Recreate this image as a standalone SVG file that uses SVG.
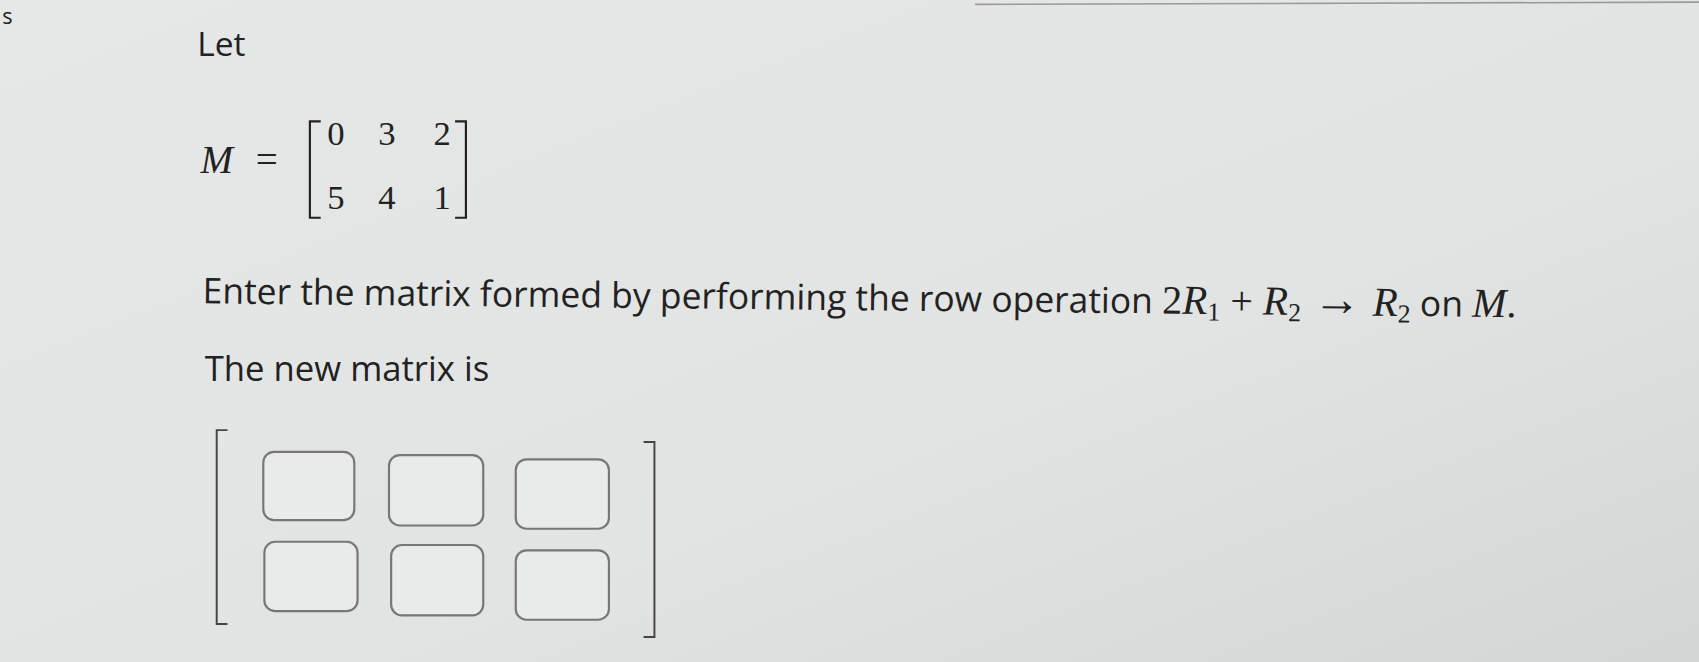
<svg xmlns="http://www.w3.org/2000/svg" width="1699" height="662" viewBox="0 0 1699 662">
<defs>
<linearGradient id="bg" x1="0" y1="0" x2="1" y2="1">
<stop offset="0" stop-color="#e6e8e7"/><stop offset="0.6" stop-color="#e2e4e3"/><stop offset="1" stop-color="#d4d6d5"/>
</linearGradient>
<style>
.t{font-family:"Open Sans","Liberation Sans",sans-serif;fill:#222;font-size:31px}
.m{font-family:"Liberation Serif",serif;fill:#222;font-size:32px}
.mi{font-family:"Liberation Serif",serif;font-style:italic;fill:#222;font-size:33px}
.br{fill:none;stroke:#222;stroke-width:2}
.bx{fill:#e9eaea;stroke:#777;stroke-width:2}
.bb{fill:none;stroke:#444;stroke-width:1.8}
</style>
</defs>
<rect width="1699" height="662" fill="url(#bg)"/>
<g transform="scale(1.0835)">
<line x1="900" y1="4" x2="1568" y2="2" stroke="#999" stroke-width="1.5"/>
<text class="t" x="2" y="22" style="font-size:20px">s</text>
<g id="let"><text class="t" x="182" y="52">Let</text></g>
<g id="matrixM">
<text class="mi" x="185" y="160" style="font-size:36px">M</text>
<text class="m" x="236" y="160" style="font-size:36px">=</text>
<path class="br" d="M296 112 H286 V201 H296"/>
<path class="br" d="M420 112 H430 V201 H420"/>
<text class="m" x="302" y="134">0</text><text class="m" x="349" y="134">3</text><text class="m" x="400" y="134">2</text>
<text class="m" x="302" y="193">5</text><text class="m" x="349" y="193">4</text><text class="m" x="400" y="193">1</text>
</g>
<g id="instruction" transform="rotate(0.6 187 275)">
<text x="187" y="280"><tspan class="t" style="font-size:32.7px">Enter the matrix formed by performing the row operation </tspan><tspan class="m" style="font-size:37px">2</tspan><tspan class="mi" style="font-size:38px">R</tspan><tspan class="m" style="font-size:24px" dy="6">1</tspan><tspan class="m" style="font-size:37px" dy="-6"> + </tspan><tspan class="mi" style="font-size:38px">R</tspan><tspan class="m" style="font-size:24px" dy="6">2</tspan><tspan class="m" style="font-size:44px" dy="-6"> → </tspan><tspan class="mi" style="font-size:38px">R</tspan><tspan class="m" style="font-size:24px" dy="6">2</tspan><tspan class="t" style="font-size:32.7px" dy="-6"> on </tspan><tspan class="mi" style="font-size:38px">M</tspan><tspan class="m" style="font-size:37px">.</tspan></text>
</g>
<g id="newmatrix"><text class="t" x="189" y="352" style="font-size:32px">The new matrix is</text></g>
<g id="answer">
<path class="bb" d="M210 397 H200 V576 H210"/>
<path class="bb" d="M594 408 H604 V588 H594"/>
<rect class="bx" x="243" y="417" width="84" height="63" rx="10"/>
<rect class="bx" x="359" y="420" width="87" height="65" rx="10"/>
<rect class="bx" x="476" y="424" width="86" height="64" rx="10"/>
<rect class="bx" x="244" y="500" width="86" height="64" rx="10"/>
<rect class="bx" x="361" y="503" width="85" height="65" rx="10"/>
<rect class="bx" x="476" y="508" width="86" height="64" rx="10"/>
</g>
</g>
</svg>
